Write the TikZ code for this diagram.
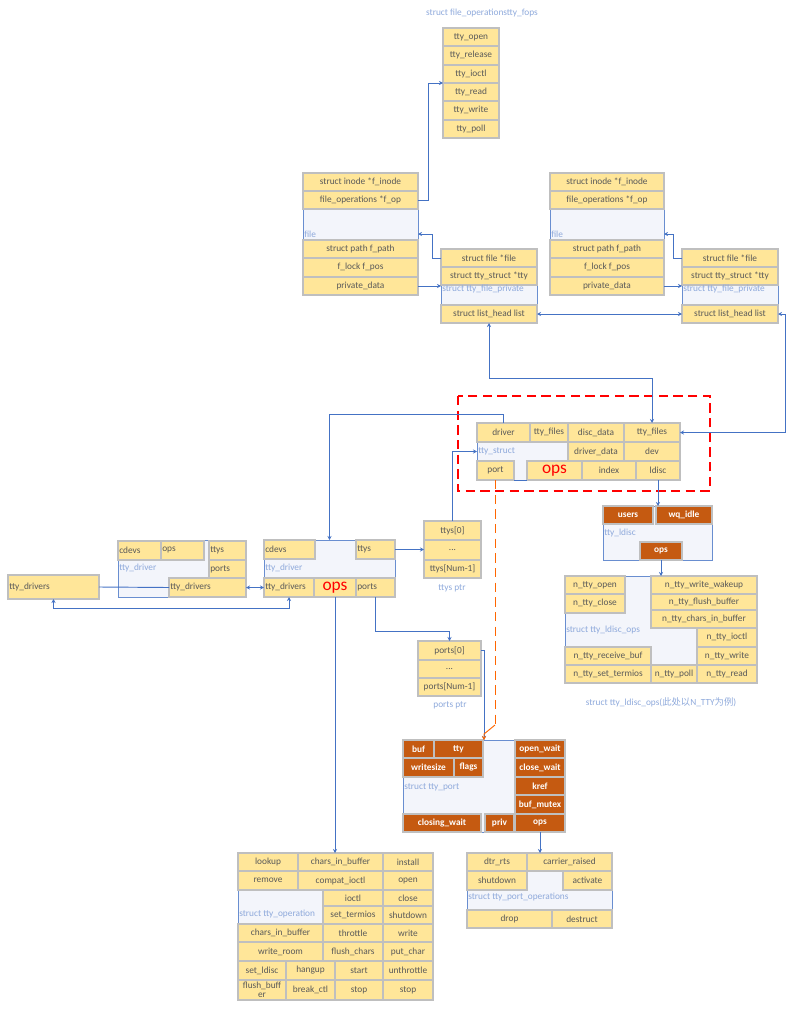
\documentclass[tikz,border=0pt]{standalone}
\usepackage{fontspec}
\setmainfont{Carlito}
\newfontfamily\cjk{Noto Sans CJK SC}
\usetikzlibrary{arrows.meta}
\definecolor{cy}{HTML}{FFE699}
\definecolor{cg}{HTML}{BFBFBF}
\definecolor{ct}{HTML}{595959}
\definecolor{co}{HTML}{C55A11}
\definecolor{cb}{HTML}{4472C4}
\definecolor{cl}{HTML}{8EA9DB}
\definecolor{cf}{HTML}{F3F5FB}
\tikzset{
 cell/.style={draw=cg,fill=cy,line width=0.8pt,inner sep=0pt,outer sep=0pt,text=ct,font=\fontsize{7}{8}\selectfont},
 ocell/.style={draw=cg,fill=co,line width=0.8pt,inner sep=0pt,outer sep=0pt,text=white,font=\fontsize{7}{8}\selectfont\bfseries},
 cont/.style={draw=cb!80,fill=cf,line width=0.7pt,inner sep=0pt,outer sep=0pt},
 lbl/.style={text=cl,font=\fontsize{7}{8}\selectfont,inner sep=0pt,anchor=west},
 big/.style={text=red,font=\fontsize{13}{13}\selectfont},
 conn/.style={draw=cb,line width=0.7pt,-{Stealth[length=3pt,width=3pt]}},
 conn2/.style={draw=cb,line width=0.7pt,{Stealth[length=3pt,width=3pt]}-{Stealth[length=3pt,width=3pt]}},
 line/.style={draw=cb,line width=0.7pt},
}
\newcommand\bx[7][cell]{\node[#1,minimum width={(#5-#3)*0.75pt},minimum height={(#6-#4)*0.75pt}] (#2) at ({(#3+#5)/2},{(#4+#6)/2}) {#7};}
\begin{document}
\begin{tikzpicture}[x=0.75pt,y=-0.75pt]
\useasboundingbox (0,0) rectangle (790,1010);
% ---------- fops
\node[lbl,anchor=center] (tfops) at (482,13) {struct file\_operationstty\_fops};
\bx{fo1}{443}{28}{499}{46}{tty\_open}
\bx{fo2}{443}{46}{499}{65}{tty\_release}
\bx{fo3}{443}{65}{499}{83}{tty\_ioctl}
\bx{fo4}{443}{83}{499}{101}{tty\_read}
\bx{fo5}{443}{101}{499}{120}{tty\_write}
\bx{fo6}{443}{120}{499}{138}{tty\_poll}
% ---------- file 1
\bx[cont]{file1}{303}{173}{418}{295}{}
\node[lbl] (lf1) at (304,234) {file};
\bx{ino1}{303}{173}{418}{191}{struct inode *f\_inode}
\bx{fop1}{303}{191}{418}{209}{file\_operations *f\_op}
\bx{pth1}{303}{240}{418}{258}{struct path f\_path}
\bx{flk1}{303}{258}{418}{277}{f\_lock f\_pos}
\bx{prv1}{303}{277}{418}{295}{private\_data}
\bx[cont]{tfp1}{441}{249}{537}{323}{}
\bx{tff1}{441}{249}{537}{267}{struct file *file}
\bx{tft1}{441}{267}{537}{285}{struct tty\_struct *tty}
\node[lbl] (ltfp1) at (442,289) {struct tty\_file\_private};
\bx{lst1}{441}{305}{537}{323}{struct list\_head list}
% ---------- file 2
\bx[cont]{file2}{550}{173}{664}{295}{}
\node[lbl] (lf2) at (551,234) {file};
\bx{ino2}{550}{173}{664}{191}{struct inode *f\_inode}
\bx{fop2}{550}{191}{664}{209}{file\_operations *f\_op}
\bx{pth2}{550}{240}{664}{258}{struct path f\_path}
\bx{flk2}{550}{258}{664}{277}{f\_lock f\_pos}
\bx{prv2}{550}{277}{664}{295}{private\_data}
\bx[cont]{tfp2}{682}{249}{778}{323}{}
\bx{tff2}{682}{249}{778}{267}{struct file *file}
\bx{tft2}{682}{267}{778}{285}{struct tty\_struct *tty}
\node[lbl] (ltfp2) at (683,289) {struct tty\_file\_private};
\bx{lst2}{682}{305}{778}{323}{struct list\_head list}
% ---------- tty_struct
\draw[red,line width=0.8pt,dash pattern=on 7pt off 4pt] (458,396) rectangle (710,491);
\bx[cont]{tst}{477}{423}{680}{480}{}
\node[lbl] (ltst) at (478,451) {tty\_struct};
\bx{drv}{477}{423}{530}{442}{driver}
\bx{tfs}{530}{423}{568}{442}{tty\_files}
\bx{dsc}{568}{423}{624}{442}{disc\_data}
\bx{tfs2}{624}{423}{680}{442}{tty\_files}
\bx{ddt}{568}{442}{624}{461}{driver\_data}
\bx{dev}{624}{442}{680}{461}{dev}
\bx{prt}{477}{461}{514}{480}{port}
\bx{sops}{527}{461}{582}{480}{\fontsize{13}{13}\selectfont\color{red}ops}
\bx{idx}{582}{461}{636}{480}{index}
\bx{ldc}{636}{461}{680}{480}{ldisc}
% ---------- tty_ldisc
\bx[cont]{tld}{603}{506}{712}{560}{}
\node[lbl] (ltld) at (604,533) {tty\_ldisc};
\bx[ocell]{usr}{603}{506}{653}{524}{users}
\bx[ocell]{wqi}{656}{506}{712}{524}{wq\_idle}
\bx[ocell]{lops}{640}{542}{682}{560}{ops}
% ---------- tty_ldisc_ops
\bx[cont]{lo}{565}{576}{757}{683}{}
\node[lbl] (llo) at (566,630) {struct tty\_ldisc\_ops};
\bx{n1}{565}{576}{625}{594}{n\_tty\_open}
\bx{n2}{565}{594}{625}{613}{n\_tty\_close}
\bx{n3}{651}{576}{757}{594}{n\_tty\_write\_wakeup}
\bx{n4}{651}{594}{757}{610}{n\_tty\_flush\_buffer}
\bx{n5}{651}{610}{757}{628}{n\_tty\_chars\_in\_buffer}
\bx{n6}{697}{628}{757}{647}{n\_tty\_ioctl}
\bx{n7}{697}{647}{757}{665}{n\_tty\_write}
\bx{n8}{565}{647}{651}{665}{n\_tty\_receive\_buf}
\bx{n9}{565}{665}{651}{683}{n\_tty\_set\_termios}
\bx{n10}{651}{665}{697}{683}{n\_tty\_poll}
\bx{n11}{697}{665}{757}{683}{n\_tty\_read}
\node[lbl,anchor=center] (clo) at (661,702) {struct tty\_ldisc\_ops({\cjk 此处以}N\_TTY{\cjk 为例})};
% ---------- drivers
\bx{head}{8}{575}{99}{599}{}
\node[lbl,text=ct] (lhead) at (9,587) {tty\_drivers};
\bx[cont]{ldrv}{118}{540}{246}{597}{}
\node[lbl] (lldrv) at (119,568) {tty\_driver};
\bx{lcd}{118}{541}{161}{560}{}
\node[lbl,text=ct] at (119,550) {cdevs};
\bx{lop}{161}{541}{204}{560}{}
\node[lbl,text=ct] at (162,550) {ops};
\bx{ltt}{209}{541}{246}{560}{}
\node[lbl,text=ct] at (210,550) {ttys};
\bx{lpt}{209}{560}{246}{578}{}
\node[lbl,text=ct] at (210,569) {ports};
\bx{ltd}{169}{578}{246}{597}{}
\node[lbl,text=ct] at (170,587) {tty\_drivers};
\bx[cont]{mdrv}{264}{540}{395}{597}{}
\node[lbl] (lmdrv) at (265,568) {tty\_driver};
\bx{mcd}{264}{540}{315}{559}{}
\node[lbl,text=ct] at (265,549) {cdevs};
\bx{mtt}{356}{540}{395}{559}{}
\node[lbl,text=ct] at (357,549) {ttys};
\bx{mtd}{264}{578}{314}{597}{}
\node[lbl,text=ct] at (265,587) {tty\_drivers};
\bx{mop}{314}{578}{356}{597}{\fontsize{13}{13}\selectfont\color{red}ops}
\bx{mpt}{356}{578}{395}{597}{}
\node[lbl,text=ct] at (357,587) {ports};
% ---------- ptr arrays
\bx[cont]{ttp}{424}{521}{481}{578}{}
\bx{tp0}{424}{521}{481}{540}{ttys[0]}
\bx{tp1}{424}{540}{481}{560}{...}
\bx{tp2}{424}{560}{481}{578}{ttys[Num-1]}
\node[lbl,anchor=center] at (452,588) {ttys ptr};
\bx[cont]{ppp}{418}{641}{481}{696}{}
\bx{pp0}{418}{641}{481}{660}{ports[0]}
\bx{pp1}{418}{660}{481}{678}{...}
\bx{pp2}{418}{678}{481}{696}{ports[Num-1]}
\node[lbl,anchor=center] at (450,705) {ports ptr};
% ---------- tty_port
\bx[cont]{tpt}{403}{740}{565}{832}{}
\node[lbl] (ltpt) at (404,787) {struct tty\_port};
\bx[ocell]{buf}{403}{740}{434}{758}{buf}
\bx[ocell]{ptty}{434}{740}{483}{758}{tty}
\bx[ocell]{wsz}{403}{758}{454}{777}{writesize}
\bx[ocell]{flg}{454}{758}{483}{777}{flags}
\bx[ocell]{clw}{403}{814}{481}{832}{closing\_wait}
\bx[ocell]{pri}{485}{814}{514}{832}{priv}
\bx[ocell]{opw}{515}{740}{565}{758}{open\_wait}
\bx[ocell]{csw}{515}{758}{565}{777}{close\_wait}
\bx[ocell]{krf}{515}{777}{565}{795}{kref}
\bx[ocell]{bmx}{515}{795}{565}{814}{buf\_mutex}
\bx[ocell]{pops}{515}{814}{565}{832}{ops}
% ---------- tty_port_operations
\bx[cont]{tpo}{467}{853}{612}{928}{}
\node[lbl] (ltpo) at (468,897) {struct tty\_port\_operations};
\bx{q1}{467}{853}{527}{871}{dtr\_rts}
\bx{q2}{527}{853}{612}{871}{carrier\_raised}
\bx{q3}{467}{871}{527}{890}{shutdown}
\bx{q4}{563}{871}{612}{890}{activate}
\bx{q5}{467}{910}{552}{928}{drop}
\bx{q6}{552}{910}{612}{928}{destruct}
% ---------- tty_operations
\bx[cont]{tops}{238}{853}{433}{1000}{}
\node[lbl] (ltops) at (239,914) {struct tty\_operation};
\bx{o1}{238}{853}{298}{871}{lookup}
\bx{o2}{298}{853}{383}{871}{chars\_in\_buffer}
\bx{o3}{383}{853}{433}{871}{install}
\bx{o4}{238}{871}{298}{890}{remove}
\bx{o5}{298}{871}{383}{890}{compat\_ioctl}
\bx{o6}{383}{871}{433}{890}{open}
\bx{o7}{323}{890}{383}{906}{ioctl}
\bx{o8}{383}{890}{433}{906}{close}
\bx{o9}{323}{906}{383}{924}{set\_termios}
\bx{o10}{383}{906}{433}{924}{shutdown}
\bx{o11}{238}{924}{323}{942}{chars\_in\_buffer}
\bx{o12}{323}{924}{383}{942}{throttle}
\bx{o13}{383}{924}{433}{942}{write}
\bx{o14}{238}{942}{323}{961}{write\_room}
\bx{o15}{323}{942}{383}{961}{flush\_chars}
\bx{o16}{383}{942}{433}{961}{put\_char}
\bx{o17}{238}{961}{286}{980}{set\_ldisc}
\bx{o18}{286}{961}{335}{980}{hangup}
\bx{o19}{335}{961}{383}{980}{start}
\bx{o20}{383}{961}{433}{980}{unthrottle}
\bx{o21}{238}{980}{286}{1000}{\shortstack{flush\_buff\\[-1pt]er}}
\bx{o22}{286}{980}{335}{1000}{break\_ctl}
\bx{o23}{335}{980}{383}{1000}{stop}
\bx{o24}{383}{980}{433}{1000}{stop}
% ---------- helper coordinates
\coordinate (h378) at (0,378);
\coordinate (hr) at (785,0);
\coordinate (h414) at (0,414);
\coordinate (h608) at (0,608);
\coordinate (h631) at (0,631);
\coordinate (h725) at (495,725);
% ---------- connectors
\draw[conn] (fop1.east) -- ++(10,0) |- (fo3.south west);
\draw[conn] (tff1.west) -- ++(-9,0) |- (file1.east);
\draw[conn] (prv1.east) -- (prv1.east -| tfp1.west);
\draw[conn] (tff2.west) -- ++(-9,0) |- (file2.east);
\draw[conn] (prv2.east) -- (prv2.east -| tfp2.west);
\draw[conn2] (lst1.east) -- (lst2.west);
\draw[conn2] (lst1.south) -- (lst1.south |- h378) -| (tfs2.north);
\draw[conn2] (lst2.east) -- (lst2.east -| hr) |- (tfs2.east);
\draw[conn] (drv.north) -- (drv.north |- h414) -| (mdrv.north);
\draw[conn] (tp0.north) |- (tst.west);
\draw[conn] (ldc.south) -- (ldc.south |- tld.north);
\draw[conn] (lops.south) -- (lops.south |- lo.north);
\draw[line] (prt.south east) -- (sops.south west);
\draw[line] (head.east) -- (ltd.west);
\draw[conn2] (ltd.east) -- (mtd.west);
\draw[conn2] (mtd.south) -- (mtd.south |- h608) -| (head.south);
\draw[conn] (mtt.east) -- (mtt.east -| ttp.west);
\draw[conn] (mpt.south) -- (mpt.south |- h631) -| (pp0.north);
\draw[conn] (mop.south) -- (mop.south |- tops.north);
\draw[conn] (pp0.east) -- ++(3,0) |- ++(0,0) -- (484,740);
\draw[draw=orange!80!red,line width=0.7pt,dash pattern=on 7pt off 4pt] (495,480) -- (h725);
\draw[draw=orange!80!red,line width=0.7pt,-{Stealth[length=3pt,width=3pt]}] (h725) -- (484,734) -- (ptty.north -| 484,0);
\draw[conn] (pops.south) -- (pops.south |- tpo.north);
\end{tikzpicture}
\end{document}
